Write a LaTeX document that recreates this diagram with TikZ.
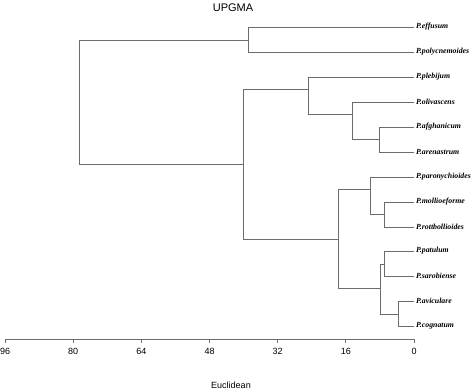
\documentclass[tikz,border=0pt]{standalone}
\usepackage{fontspec}
\setmainfont{Liberation Serif}
\newfontfamily\arialfont{Liberation Sans}
\usetikzlibrary{positioning}

\tikzset{
    taxon/.style={anchor=west, inner sep=2pt, font=\fontsize{7.8}{8}\selectfont\bfseries\itshape},
    branch/.style={draw=gray!85!black, line width=0.7pt},
    scalelabel/.style={font=\fontsize{9}{10}\selectfont\arialfont}
}

\begin{document}
\begin{tikzpicture}[x=1pt, y=-1pt]
        \useasboundingbox (0,0) rectangle (474,391);
        \node[font=\fontsize{11}{12}\selectfont\arialfont] (title) at (233,8) {UPGMA};

        % taxa
        \node[taxon] (eff) at (414,27) {P.effusum};
        \node[taxon] (pol) at (414,52) {P.polycnemoides};
        \node[taxon] (ple) at (414,77) {P.plebijum};
        \node[taxon] (oli) at (414,102) {P.olivascens};
        \node[taxon] (afg) at (414,127) {P.afghanicum};
        \node[taxon] (are) at (414,152) {P.arenastrum};
        \node[taxon] (par) at (414,177) {P.paronychioides};
        \node[taxon] (mol) at (414,202) {P.mollioeforme};
        \node[taxon] (rot) at (414,227) {P.rottbollioides};
        \node[taxon] (pat) at (414,251) {P.patulum};
        \node[taxon] (sar) at (414,276) {P.sarobiense};
        \node[taxon] (avi) at (414,301) {P.aviculare};
        \node[taxon] (cog) at (414,326) {P.cognatum};

        % clusters
        \coordinate (root) at (79,164);
        \coordinate (cA) at (248,40);
        \coordinate (cB) at (243,164);
        \coordinate (cC) at (308,89);
        \coordinate (cE) at (352,114);
        \coordinate (cF) at (379,139);
        \coordinate (cD) at (338,239);
        \coordinate (cG) at (370,189);
        \coordinate (cI) at (384,214);
        \coordinate (cH) at (380,288);
        \coordinate (cJ) at (384,264);
        \coordinate (cK) at (398,314);

        \draw[branch] (root) |- (cA);
        \draw[branch] (root) |- (cB);
        \draw[branch] (cA) |- (eff.west);
        \draw[branch] (cA) |- (pol.west);
        \draw[branch] (cB) |- (cC);
        \draw[branch] (cB) |- (cD);
        \draw[branch] (cC) |- (ple.west);
        \draw[branch] (cC) |- (cE);
        \draw[branch] (cE) |- (oli.west);
        \draw[branch] (cE) |- (cF);
        \draw[branch] (cF) |- (afg.west);
        \draw[branch] (cF) |- (are.west);
        \draw[branch] (cD) |- (cG);
        \draw[branch] (cD) |- (cH);
        \draw[branch] (cG) |- (par.west);
        \draw[branch] (cG) |- (cI);
        \draw[branch] (cI) |- (mol.west);
        \draw[branch] (cI) |- (rot.west);
        \draw[branch] (cH) |- (cJ);
        \draw[branch] (cH) |- (cK);
        \draw[branch] (cJ) |- (pat.west);
        \draw[branch] (cJ) |- (sar.west);
        \draw[branch] (cK) |- (avi.west);
        \draw[branch] (cK) |- (cog.west);

        % scale
        \draw[branch] (5,339) -- (414,339);
        \foreach \d in {96,80,64,48,32,16,0}
            \draw[branch] ({414-4.26*\d},339) -- ({414-4.26*\d},343)
                node[scalelabel, below=2pt] {\d};
        \node[scalelabel] (axis) at (231,385) {Euclidean};
    \end{tikzpicture}
\end{document}
